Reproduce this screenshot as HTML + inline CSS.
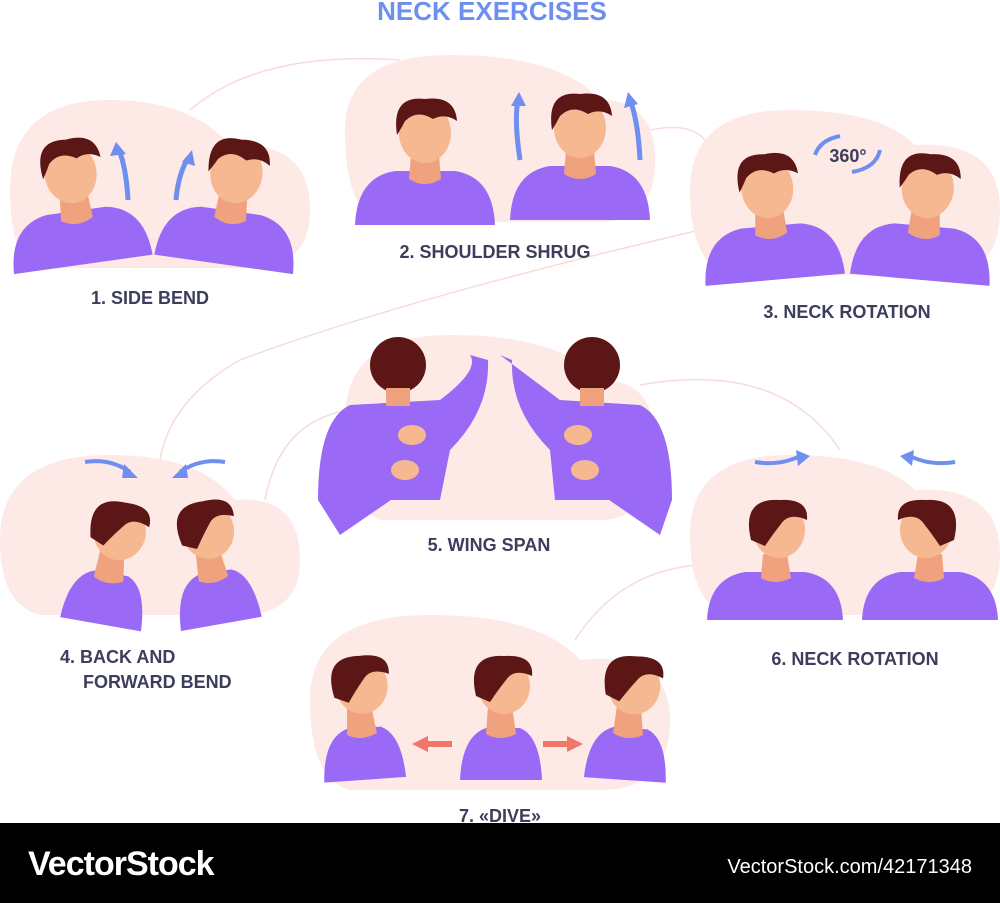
<!DOCTYPE html>
<html><head><meta charset="utf-8"><style>
html,body{margin:0;padding:0;background:#fff}
svg{display:block}
text{font-family:"Liberation Sans",sans-serif;font-weight:bold}
</style></head><body>
<svg width="1000" height="903" viewBox="0 0 1000 903" xmlns="http://www.w3.org/2000/svg">
<defs>
<g id="front">
  <path d="M-70,60 Q-68,12 -30,6 L30,6 Q68,12 70,60 Z" fill="#9a6af7"/>
  <path d="M-14,-10 L14,-10 L16,14 Q0,24 -16,14 Z" fill="#f0a27e"/>
  <ellipse cx="0" cy="-32" rx="26" ry="30" fill="#f6b891"/>
  <path d="M-28,-30 Q-34,-70 0,-66 Q30,-70 32,-44 Q20,-52 8,-46 Q-8,-56 -20,-44 Q-24,-36 -28,-30 Z" fill="#5c1616"/>
</g>
<g id="side">
  <path d="M-40,60 Q-38,16 -14,8 L20,8 Q40,16 42,60 Z" fill="#9a6af7"/>
  <path d="M-12,-14 L12,-14 L16,14 Q0,22 -14,14 Z" fill="#f0a27e"/>
  <ellipse cx="4" cy="-34" rx="26" ry="28" fill="#f6b891"/>
  <path d="M-24,-24 Q-34,-66 4,-64 Q34,-66 32,-44 Q14,-52 6,-40 Q-2,-30 -10,-18 Z" fill="#5c1616"/>
</g>
<g id="wide">
  <path d="M-68,52 Q-66,10 -30,4 L30,4 Q66,10 68,52 Z" fill="#9a6af7"/>
  <path d="M-12,-14 L12,-14 L16,10 Q0,18 -14,10 Z" fill="#f0a27e"/>
  <ellipse cx="4" cy="-38" rx="26" ry="28" fill="#f6b891"/>
  <path d="M-24,-28 Q-34,-70 4,-68 Q34,-70 32,-48 Q14,-56 6,-44 Q-2,-34 -10,-22 Z" fill="#5c1616"/>
</g>
</defs>
<g fill="none" stroke="#f6dcd8" stroke-width="1.5">
<path d="M190,110 Q260,50 400,60"/>
<path d="M650,130 Q700,120 710,150"/>
<path d="M700,230 Q400,300 240,360 Q170,400 160,460"/>
<path d="M265,500 Q280,420 350,410"/>
<path d="M640,385 Q780,360 840,450"/>
<path d="M575,640 Q620,570 700,565"/>
</g>
<g fill="#fde9e5">
<path d="M10,190 Q10,100 110,100 Q190,100 230,145 Q310,140 310,210 Q310,268 250,268 L40,268 Q10,260 10,190 Z"/>
<path d="M345,130 Q345,55 450,55 Q560,55 600,100 Q655,100 655,160 Q655,222 600,222 L380,222 Q345,210 345,130 Z"/>
<path d="M690,190 Q690,110 790,110 Q880,110 915,145 Q1000,140 1000,210 Q1000,275 940,275 L730,275 Q690,265 690,190 Z"/>
<path d="M0,540 Q0,455 110,455 Q200,455 235,500 Q300,495 300,560 Q300,615 240,615 L40,615 Q0,605 0,540 Z"/>
<path d="M345,420 Q345,335 450,335 Q560,335 600,380 Q655,380 655,440 Q655,520 600,520 L380,520 Q345,505 345,420 Z"/>
<path d="M690,535 Q690,455 790,455 Q880,455 915,490 Q1000,485 1000,555 Q1000,615 940,615 L730,615 Q690,605 690,535 Z"/>
<path d="M310,700 Q310,615 430,615 Q540,615 580,660 Q670,650 670,720 Q670,790 600,790 L350,790 Q310,780 310,700 Z"/>
</g>
<text x="492" y="20" font-size="26" fill="#6e8ff0" text-anchor="middle">NECK EXERCISES</text>
<use href="#front" transform="translate(75,205) rotate(-8)"/>
<use href="#front" transform="translate(232,205) rotate(8)"/>
<path d="M128,200 Q126,165 118,148" fill="none" stroke="#6e8ff0" stroke-width="5"/><path d="M110,156 L116,142 L126,154 Z" fill="#6e8ff0"/>
<path d="M176,200 Q178,175 188,158" fill="none" stroke="#6e8ff0" stroke-width="5"/><path d="M182,162 L192,150 L195,166 Z" fill="#6e8ff0"/>
<text x="150" y="304" font-size="18" fill="#3d3d5c" text-anchor="middle">1. SIDE BEND</text>
<use href="#front" transform="translate(425,165)"/>
<use href="#front" transform="translate(580,160)"/>
<path d="M520,160 Q514,120 518,100" fill="none" stroke="#6e8ff0" stroke-width="5"/><path d="M511,106 L519,92 L526,106 Z" fill="#6e8ff0"/>
<path d="M640,160 Q638,120 630,100" fill="none" stroke="#6e8ff0" stroke-width="5"/><path d="M624,108 L628,92 L638,104 Z" fill="#6e8ff0"/>
<text x="495" y="258" font-size="18" fill="#3d3d5c" text-anchor="middle">2. SHOULDER SHRUG</text>
<use href="#front" transform="translate(770,220) rotate(-5)"/>
<use href="#front" transform="translate(925,220) rotate(5)"/>
<text x="848" y="162" font-size="18" fill="#3d3d5c" text-anchor="middle">360°</text>
<path d="M815,155 Q820,140 840,136" fill="none" stroke="#6e8ff0" stroke-width="4"/>
<path d="M880,150 Q876,168 852,172" fill="none" stroke="#6e8ff0" stroke-width="4"/>
<text x="847" y="318" font-size="18" fill="#3d3d5c" text-anchor="middle">3. NECK ROTATION</text>
<use href="#side" transform="translate(110,565) rotate(10)"/>
<use href="#side" transform="translate(210,565) rotate(-10)"/>
<path d="M85,462 Q110,458 130,472" fill="none" stroke="#6e8ff0" stroke-width="4"/><path d="M124,464 L138,478 L122,478 Z" fill="#6e8ff0"/>
<path d="M225,462 Q200,458 180,472" fill="none" stroke="#6e8ff0" stroke-width="4"/><path d="M186,464 L172,478 L188,478 Z" fill="#6e8ff0"/>
<text x="60" y="663" font-size="18" fill="#3d3d5c">4. BACK AND</text>
<text x="83" y="688" font-size="18" fill="#3d3d5c">FORWARD BEND</text>
<g fill="#9a6af7">
<path d="M318,500 Q318,420 350,405 L440,400 Q480,370 470,355 L488,360 Q490,410 450,450 L440,500 Z"/>
<path d="M318,500 L340,535 L420,480 L400,470 Z"/>
<path d="M672,500 Q672,420 640,405 L560,400 Q520,370 500,355 L512,360 Q510,410 550,450 L555,500 Z"/>
<path d="M672,500 L660,535 L580,480 L600,470 Z"/>
</g>
<circle cx="398" cy="365" r="28" fill="#5c1616"/>
<circle cx="592" cy="365" r="28" fill="#5c1616"/>
<rect x="386" y="388" width="24" height="18" fill="#f0a27e"/>
<rect x="580" y="388" width="24" height="18" fill="#f0a27e"/>
<g fill="#f6b891"><ellipse cx="412" cy="435" rx="14" ry="10"/><ellipse cx="405" cy="470" rx="14" ry="10"/><ellipse cx="578" cy="435" rx="14" ry="10"/><ellipse cx="585" cy="470" rx="14" ry="10"/></g>
<text x="489" y="551" font-size="18" fill="#3d3d5c" text-anchor="middle">5. WING SPAN</text>
<use href="#wide" transform="translate(775,568)"/>
<use href="#wide" transform="translate(930,568) scale(-1,1)"/>
<path d="M755,462 Q780,466 800,456" fill="none" stroke="#6e8ff0" stroke-width="4"/><path d="M796,450 L810,456 L798,466 Z" fill="#6e8ff0"/>
<path d="M955,462 Q930,466 910,456" fill="none" stroke="#6e8ff0" stroke-width="4"/><path d="M914,450 L900,456 L912,466 Z" fill="#6e8ff0"/>
<text x="855" y="665" font-size="18" fill="#3d3d5c" text-anchor="middle">6. NECK ROTATION</text>
<use href="#side" transform="translate(360,720) rotate(-4)"/>
<use href="#side" transform="translate(500,720)"/>
<use href="#side" transform="translate(628,720) rotate(4)"/>
<path d="M452,744 L425,744" stroke="#f0766a" stroke-width="6"/><path d="M428,736 L412,744 L428,752 Z" fill="#f0766a"/>
<path d="M543,744 L570,744" stroke="#f0766a" stroke-width="6"/><path d="M567,736 L583,744 L567,752 Z" fill="#f0766a"/>
<text x="500" y="822" font-size="18" fill="#3d3d5c" text-anchor="middle">7. «DIVE»</text>
<rect x="0" y="823" width="1000" height="80" fill="#000"/>
<text x="28" y="875" font-size="34" fill="#fff" letter-spacing="-1">VectorStock</text>
<text x="972" y="873" font-size="20" fill="#fff" text-anchor="end" style="font-weight:normal">VectorStock.com/42171348</text>
</svg>
</body></html>
